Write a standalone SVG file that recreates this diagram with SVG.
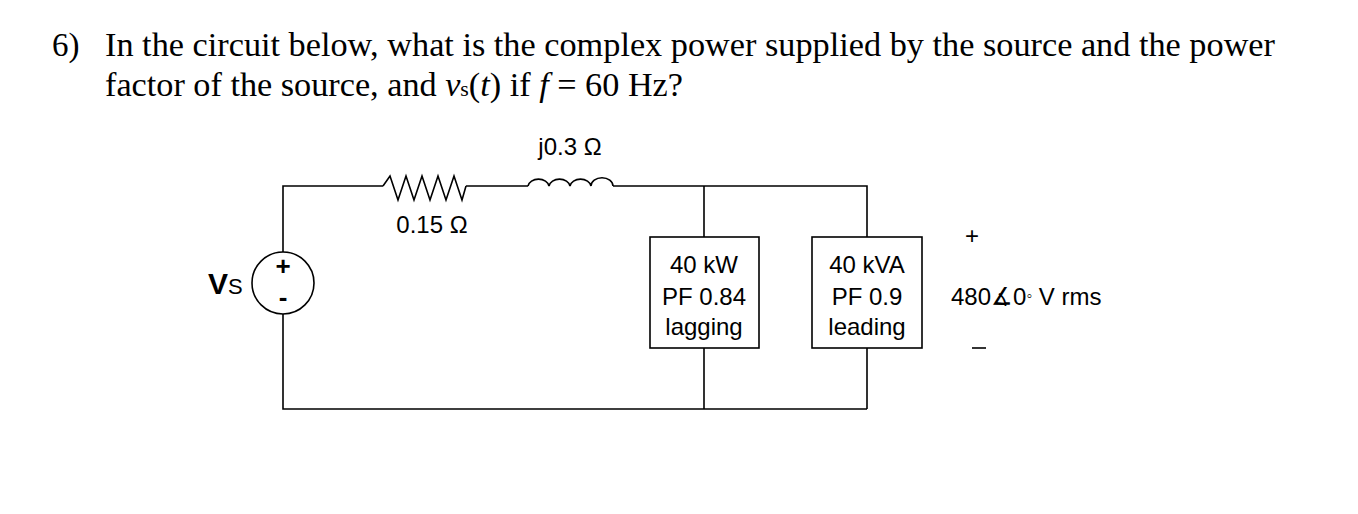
<svg xmlns="http://www.w3.org/2000/svg" width="1358" height="514" viewBox="0 0 1358 514">
<style>
.w{fill:none;stroke:#000;stroke-width:1.6}
.t{font-family:"Liberation Serif",serif;font-size:33px}
.s{font-family:"Liberation Sans",sans-serif;font-size:24px}
</style>
<rect width="1358" height="514" fill="#fff"/>
<text class="t" x="52" y="56">6)</text>
<text class="t" x="105" y="56" textLength="1170" lengthAdjust="spacingAndGlyphs">In the circuit below, what is the complex power supplied by the source and the power</text>
<text class="t" x="105" y="96" textLength="578" lengthAdjust="spacingAndGlyphs">factor of the source, and <tspan font-style="italic">v</tspan><tspan font-size="21">s</tspan>(<tspan font-style="italic">t</tspan>) if <tspan font-style="italic">f</tspan> = 60 Hz?</text>
<g id="wires">
<path class="w" d="M283 252 V186 H383 M466 186 H528 M613 186 H867 V237 M704 186 V237 M704 348 V409 M867 348 V409 M283 314 V409 H867"/>
</g>
<g id="source">
<circle class="w" cx="283" cy="283" r="31"/>
<text x="283" y="275" text-anchor="middle" font-family="Liberation Sans,sans-serif" font-size="26" font-weight="bold">+</text>
<text x="283" y="306" text-anchor="middle" font-family="Liberation Sans,sans-serif" font-size="26" font-weight="bold">-</text>
<text x="208" y="294" font-family="Liberation Sans,sans-serif" font-size="30" font-weight="bold">V<tspan font-size="22" font-weight="normal">S</tspan></text>
</g>
<g id="resistor">
<path class="w" d="M383 186 L390 176 L398 200 L406 176 L414 200 L422 176 L430 200 L438 176 L446 200 L454 176 L462 200 L466 186"/>
<text class="s" x="432" y="233" text-anchor="middle">0.15 Ω</text>
</g>
<g id="inductor">
<path class="w" d="M528 186 A10.6 8 0 0 1 549 186 A10.6 8 0 0 1 570 186 A10.6 8 0 0 1 591 186 A10.6 8 0 0 1 613 186"/>
<text class="s" x="570" y="155" text-anchor="middle">j0.3 Ω</text>
</g>
<g id="load1">
<rect class="w" x="650" y="237" width="109" height="111"/>
<text class="s" x="704" y="273" text-anchor="middle">40 kW</text>
<text class="s" x="704" y="305" text-anchor="middle">PF 0.84</text>
<text class="s" x="704" y="335" text-anchor="middle">lagging</text>
</g>
<g id="load2">
<rect class="w" x="812" y="237" width="110" height="111"/>
<text class="s" x="867" y="273" text-anchor="middle">40 kVA</text>
<text class="s" x="867" y="305" text-anchor="middle">PF 0.9</text>
<text class="s" x="867" y="335" text-anchor="middle">leading</text>
</g>
<g id="voltage">
<text class="s" x="972" y="244" text-anchor="middle" font-size="20">+</text>
<text class="s" x="951" y="305">480∡0<tspan font-size="16" dy="-4">◦</tspan><tspan dy="4"> V rms</tspan></text>
<path class="w" d="M972 348 H986"/>
</g>
</svg>
